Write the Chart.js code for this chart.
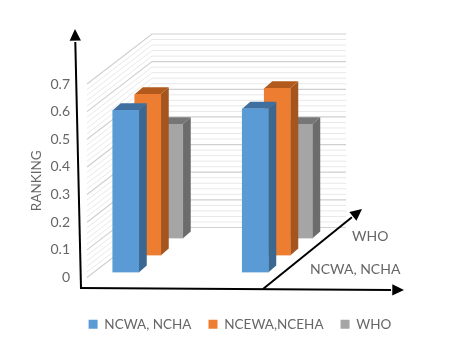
<!DOCTYPE html>
<html lang="en">
<head>
    <meta charset="UTF-8">
    <title>Ranking</title>
    <script src="https://cdn.jsdelivr.net/npm/chart.js"></script>
    <style>
        body { margin: 0; background: #fff; }
        canvas { display: block; }
    </style>
</head>
<body>
    <canvas id="myChart" width="474" height="350"></canvas>
    <script>
        // data
        const categories = ['Group 1', 'Group 2'];
        const seriesNames = ['NCWA, NCHA', 'NCEWA,NCEHA', 'WHO'];
        const ncwaValues = [0.587, 0.592];
        const ncewaValues = [0.583, 0.605];
        const whoValues = [0.413, 0.413];
        const yTicks = [0, 0.1, 0.2, 0.3, 0.4, 0.5, 0.6, 0.7];
        const minorStep = 0.02;
        const depthLabels = ['NCWA, NCHA', 'WHO'];

        const textColor = '#666666';
        const faceColors = ['#5b9bd5', '#ed7d31', '#a5a5a5'];
        const topColors = ['#3f6f9e', '#b25a1e', '#767676'];
        const sideColors = ['#3a6891', '#a5561f', '#6c6c6c'];

        // oblique projection: each row of bars sits further back
        const rowShift = [[-26, -5], [-4, -22], [18, -39]];
        const wallDx = 65, wallDy = -50;
        const barDx = 8, barDy = -7;

        function poly(ctx, pts, fill) {
            ctx.beginPath();
            pts.forEach((p, i) => i ? ctx.lineTo(p[0], p[1]) : ctx.moveTo(p[0], p[1]));
            ctx.closePath();
            ctx.fillStyle = fill;
            ctx.fill();
        }

        function arrow(ctx, x0, y0, x1, y1) {
            const a = Math.atan2(y1 - y0, x1 - x0);
            const size = 13;
            ctx.beginPath();
            ctx.moveTo(x0, y0);
            ctx.lineTo(x1 - Math.cos(a) * size, y1 - Math.sin(a) * size);
            ctx.strokeStyle = '#000';
            ctx.lineWidth = 2;
            ctx.stroke();
            ctx.beginPath();
            ctx.moveTo(x1, y1);
            ctx.lineTo(x1 - size * Math.cos(a - 0.45), y1 - size * Math.sin(a - 0.45));
            ctx.lineTo(x1 - size * Math.cos(a + 0.45), y1 - size * Math.sin(a + 0.45));
            ctx.closePath();
            ctx.fillStyle = '#000';
            ctx.fill();
        }

        // walls behind the bars
        const wallPlugin = {
            id: 'walls',
            beforeDatasetsDraw(chart) {
                const ctx = chart.ctx;
                const y = chart.scales.y;
                const left = chart.chartArea.left, right = chart.chartArea.right;
                const count = Math.round(0.7 / minorStep);
                ctx.save();
                for (let i = 0; i <= count; i++) {
                    const py = y.getPixelForValue(i * minorStep);
                    const major = i % 5 === 0;
                    ctx.strokeStyle = major ? '#d0d0d0' : '#e8e8e8';
                    ctx.lineWidth = major ? 1.2 : 1;
                    ctx.beginPath();
                    ctx.moveTo(left, py);
                    ctx.lineTo(left + wallDx, py + wallDy);
                    ctx.lineTo(right, py + wallDy);
                    ctx.stroke();
                }
                ctx.restore();
            },
            // shift each row back, with its top and side faces
            beforeDatasetDraw(chart, args) {
                const ctx = chart.ctx;
                const i = args.index;
                ctx.save();
                ctx.translate(rowShift[i][0], rowShift[i][1]);
                args.meta.data.forEach(bar => {
                    const x0 = bar.x - bar.width / 2, x1 = bar.x + bar.width / 2;
                    poly(ctx, [[x0, bar.y], [x1, bar.y], [x1 + barDx, bar.y + barDy], [x0 + barDx, bar.y + barDy]], topColors[i]);
                    poly(ctx, [[x1, bar.y], [x1 + barDx, bar.y + barDy], [x1 + barDx, bar.base + barDy], [x1, bar.base]], sideColors[i]);
                });
            },
            afterDatasetDraw(chart) {
                chart.ctx.restore();
            },
            afterDraw(chart) {
                const ctx = chart.ctx;
                ctx.save();
                arrow(ctx, 81, 288, 75, 29);
                arrow(ctx, 80, 288, 404, 290);
                arrow(ctx, 263, 289, 362, 209);
                ctx.fillStyle = textColor;
                ctx.font = '14px Lato';
                ctx.textBaseline = 'middle';
                ctx.textAlign = 'left';
                ctx.fillText(depthLabels[0], 310, 269);
                ctx.fillText(depthLabels[1], 352, 236);
                ctx.restore();
            }
        };

        const ctx = document.getElementById('myChart').getContext('2d');
        new Chart(ctx, {
            type: 'bar',
            data: {
                labels: categories,
                datasets: [
                    { label: seriesNames[0], data: ncwaValues, backgroundColor: faceColors[0] },
                    { label: seriesNames[1], data: ncewaValues, backgroundColor: faceColors[1] },
                    { label: seriesNames[2], data: whoValues, backgroundColor: faceColors[2] }
                ]
            },
            options: {
                responsive: false,
                animation: false,
                layout: { padding: { top: 84, right: 0, bottom: 9, left: 6 } },
                datasets: { bar: { grouped: false, barThickness: 26 } },
                scales: {
                    x: {
                        grid: { display: false },
                        border: { display: false },
                        ticks: { display: false },
                        afterFit: s => { s.height = 23; }
                    },
                    y: {
                        min: 0,
                        max: 0.7,
                        afterBuildTicks: s => { s.ticks = yTicks.map(v => ({ value: v })); },
                        afterFit: s => { s.width = 81; },
                        grid: { display: false },
                        border: { display: false },
                        ticks: { color: textColor, font: { family: 'Lato', size: 14 }, padding: 9 },
                        title: {
                            display: true,
                            text: 'RANKING',
                            color: textColor,
                            font: { family: 'Lato', size: 13.5 },
                            padding: { top: 23, bottom: 0 }
                        }
                    },
                    // empty axis, only keeps the space right of the back wall
                    spacer: {
                        position: 'right',
                        grid: { display: false },
                        border: { display: false },
                        ticks: { display: false },
                        afterFit: s => { s.width = 128; }
                    }
                },
                plugins: {
                    legend: {
                        position: 'bottom',
                        labels: {
                            color: textColor,
                            font: { family: 'Lato', size: 13.5 },
                            boxWidth: 9,
                            boxHeight: 9,
                            padding: 17
                        }
                    },
                    tooltip: { enabled: false }
                }
            },
            plugins: [wallPlugin]
        });
    </script>
</body>
</html>
